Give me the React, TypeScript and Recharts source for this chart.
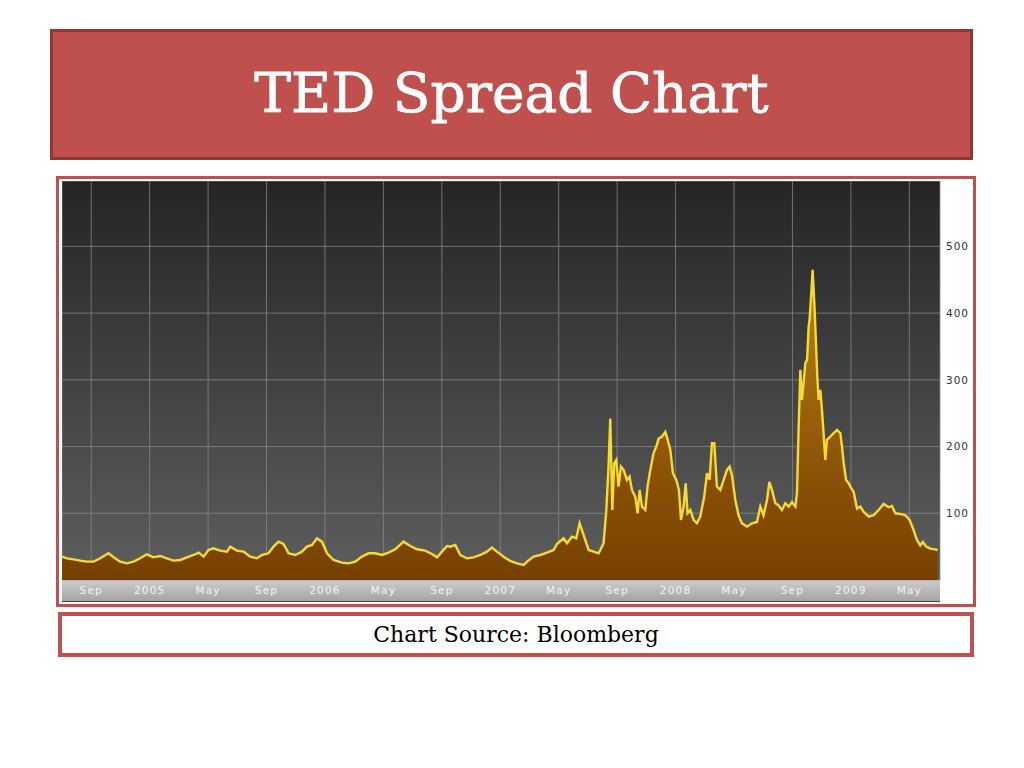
import { Area, AreaChart, CartesianGrid, XAxis, YAxis } from "recharts";

// TED spread in basis points, [months since Jul 2004, bp]
const ted2004 = [[0, 35], [0.34, 32.5], [0.79, 31], [1.25, 29], [1.7, 27.5], [2.16, 27.5], [2.62, 32.5], [3.18, 40], [3.53, 34], [3.98, 27.5], [4.44, 25], [4.9, 27.5], [5.35, 32.5], [5.81, 38.5]];
const ted2005 = [[6.26, 34], [6.72, 36], [7.18, 32.5], [7.63, 29], [8.09, 30], [8.55, 34], [9.0, 37.5], [9.35, 41], [9.69, 35], [10.03, 45], [10.37, 47.5], [10.83, 44], [11.29, 42.5], [11.52, 50], [11.97, 44], [12.43, 42.5], [12.88, 35], [13.34, 32.5], [13.69, 37.5], [14.14, 40], [14.48, 50], [14.82, 57.5], [15.16, 54], [15.51, 40], [15.97, 37.5], [16.42, 42.5], [16.77, 50], [17.11, 52.5], [17.45, 62.5], [17.79, 57.5]];
const ted2006 = [[18.14, 40], [18.59, 30], [19.16, 26], [19.61, 25], [20.07, 27.5], [20.53, 35], [20.98, 40], [21.44, 40], [21.9, 37.5], [22.35, 41], [22.81, 46], [23.38, 57.5], [23.84, 51], [24.3, 46], [24.86, 44], [25.32, 39], [25.67, 34], [26.01, 42.5], [26.35, 51], [26.58, 50], [26.92, 52.5], [27.26, 37.5], [27.72, 32.5], [28.17, 34], [28.63, 37.5], [29.09, 42.5], [29.43, 48.5], [29.77, 42.5]];
const ted2007 = [[30.23, 35], [30.68, 28.5], [31.14, 25], [31.6, 22.5], [31.83, 27.5], [32.28, 35], [32.74, 37.5], [33.2, 41], [33.65, 45], [33.88, 54], [34.33, 62.5], [34.57, 55], [34.91, 65], [35.2, 62.5], [35.43, 85], [35.7, 67.5], [36.05, 45], [36.39, 42.5], [36.73, 40], [36.85, 45], [37.07, 55], [37.26, 105], [37.41, 170], [37.53, 242], [37.67, 105], [37.8, 175], [37.94, 180], [38.1, 140], [38.26, 170], [38.44, 165], [38.67, 150], [38.85, 155], [39.01, 135], [39.24, 125], [39.4, 100], [39.54, 135], [39.7, 110], [39.93, 105], [40.08, 140], [40.27, 165], [40.49, 190], [40.68, 200], [40.84, 212], [41.07, 215], [41.3, 222], [41.46, 210], [41.64, 195], [41.82, 160]];
const ted2008 = [[42.05, 150], [42.23, 135], [42.37, 90], [42.55, 110], [42.69, 145], [42.82, 100], [43.01, 105], [43.23, 90], [43.46, 85], [43.69, 95], [43.96, 125], [44.15, 160], [44.33, 150], [44.49, 205], [44.65, 205], [44.83, 140], [45.06, 135], [45.29, 150], [45.52, 165], [45.7, 170], [45.86, 157], [46.09, 120], [46.31, 97], [46.54, 85], [46.89, 80], [47.23, 85], [47.57, 87], [47.8, 110], [48.02, 97], [48.26, 120], [48.42, 147], [48.6, 135], [48.83, 115], [49.05, 112], [49.28, 105], [49.51, 115], [49.74, 110], [49.97, 117], [50.2, 110], [50.31, 130], [50.42, 225], [50.54, 315], [50.65, 270], [50.76, 295], [50.88, 325], [51.0, 330], [51.11, 380], [51.17, 390], [51.29, 430], [51.38, 465], [51.52, 405], [51.61, 355], [51.7, 305], [51.79, 270], [51.91, 285], [52.02, 255], [52.13, 220], [52.25, 180], [52.36, 210], [52.59, 215], [52.82, 220], [53.05, 225], [53.28, 220], [53.39, 200], [53.51, 175], [53.67, 150], [53.85, 145], [53.96, 140]];
const ted2009 = [[54.19, 132], [54.42, 107], [54.65, 110], [54.88, 102], [55.22, 95], [55.56, 97], [55.9, 105], [56.24, 114], [56.58, 109], [56.81, 111], [57.04, 100], [57.38, 99], [57.73, 97], [58.02, 90], [58.29, 75], [58.52, 60], [58.75, 52], [58.93, 57], [59.16, 50], [59.43, 47], [59.77, 46], [59.93, 45]];

const monthTicks = [2, 6, 10, 14, 18, 22, 26, 30, 34, 38, 42, 46, 50, 54, 58];
const monthLabels = ["Sep", "2005", "May", "Sep", "2006", "May", "Sep", "2007", "May", "Sep", "2008", "May", "Sep", "2009", "May"];
const bpTicks = [100, 200, 300, 400, 500];

const data = [...ted2004, ...ted2005, ...ted2006, ...ted2007, ...ted2008, ...ted2009].map(([t, bp]) => ({ t, bp }));

const red = "#C0504D";

export default function App() {
  return (
    <div style={{ position: "absolute", left: 0, top: 0, width: 1024, height: 768, background: "#fff", overflow: "hidden" }}>
      <div
        style={{
          position: "absolute", left: 50, top: 29, width: 923, height: 131, boxSizing: "border-box",
          background: red, border: "3px solid #943634", display: "flex", alignItems: "center", justifyContent: "center",
        }}
      >
        <span style={{ color: "#fff", fontFamily: "'DejaVu Serif', serif", fontSize: 55, lineHeight: 1, marginTop: -2, WebkitTextStroke: "0.8px #fff" }}>
          TED Spread Chart
        </span>
      </div>

      <div
        style={{
          position: "absolute", left: 56, top: 176, width: 920, height: 431, boxSizing: "border-box",
          border: `3px solid ${red}`, background: "#fff",
        }}
      />
      <div
        style={{
          position: "absolute", left: 62, top: 580, width: 878, height: 22, boxSizing: "border-box",
          background: "linear-gradient(#cdcdcd, #a4a4a4)", borderBottom: "1px solid #444",
        }}
      />
      <div style={{ position: "absolute", left: 62, top: 181 }}>
        <AreaChart width={911} height={421} data={data} margin={{ top: 0, right: 0, bottom: 0, left: 0 }}>
          <defs>
            <linearGradient id="bgGrad" x1="0" y1="0" x2="0" y2="1">
              <stop offset="0%" stopColor="#252525" />
              <stop offset="100%" stopColor="#5e5e5e" />
            </linearGradient>
            <linearGradient id="areaGrad" gradientUnits="userSpaceOnUse" x1="0" y1="0" x2="0" y2="399">
              <stop offset="0%" stopColor="#c99a22" />
              <stop offset="45%" stopColor="#a66d10" />
              <stop offset="75%" stopColor="#8a5006" />
              <stop offset="100%" stopColor="#764000" />
            </linearGradient>
          </defs>
          <CartesianGrid fill="url(#bgGrad)" stroke="#8a8a8a" strokeOpacity={0.75} />
          <XAxis
            dataKey="t"
            type="number"
            domain={[0, 60.1]}
            allowDataOverflow
            ticks={monthTicks}
            tickFormatter={(v) => monthLabels[monthTicks.indexOf(v)] ?? ""}
            height={22}
            tickLine={false}
            axisLine={false}
            tickMargin={0}
            interval={0}
            tick={{ fill: "#f4f4f4", fontSize: 10.5, fontFamily: "'DejaVu Sans', sans-serif", letterSpacing: 1.2, dy: 1 }}
          />
          <YAxis
            orientation="right"
            width={33}
            domain={[0, 598]}
            ticks={bpTicks}
            tickLine={false}
            axisLine={false}
            tickMargin={0}
            tick={{ fill: "#333", fontSize: 10.5, fontFamily: "'DejaVu Sans', sans-serif", letterSpacing: 1 }}
          />
          <Area
            type="linear"
            dataKey="bp"
            stroke="#f5dc2c"
            strokeWidth={2.4}
            fill="url(#areaGrad)"
            fillOpacity={1}
            isAnimationActive={false}
            dot={false}
            activeDot={false}
          />
        </AreaChart>
      </div>

      <div
        style={{
          position: "absolute", left: 58, top: 612, width: 916, height: 45, boxSizing: "border-box",
          border: `4px solid ${red}`, background: "#fff", display: "flex", alignItems: "center", justifyContent: "center",
        }}
      >
        <span style={{ color: "#000", fontFamily: "'DejaVu Serif', serif", fontSize: 22, lineHeight: 1, marginTop: 1 }}>
          Chart Source: Bloomberg
        </span>
      </div>
    </div>
  );
}
